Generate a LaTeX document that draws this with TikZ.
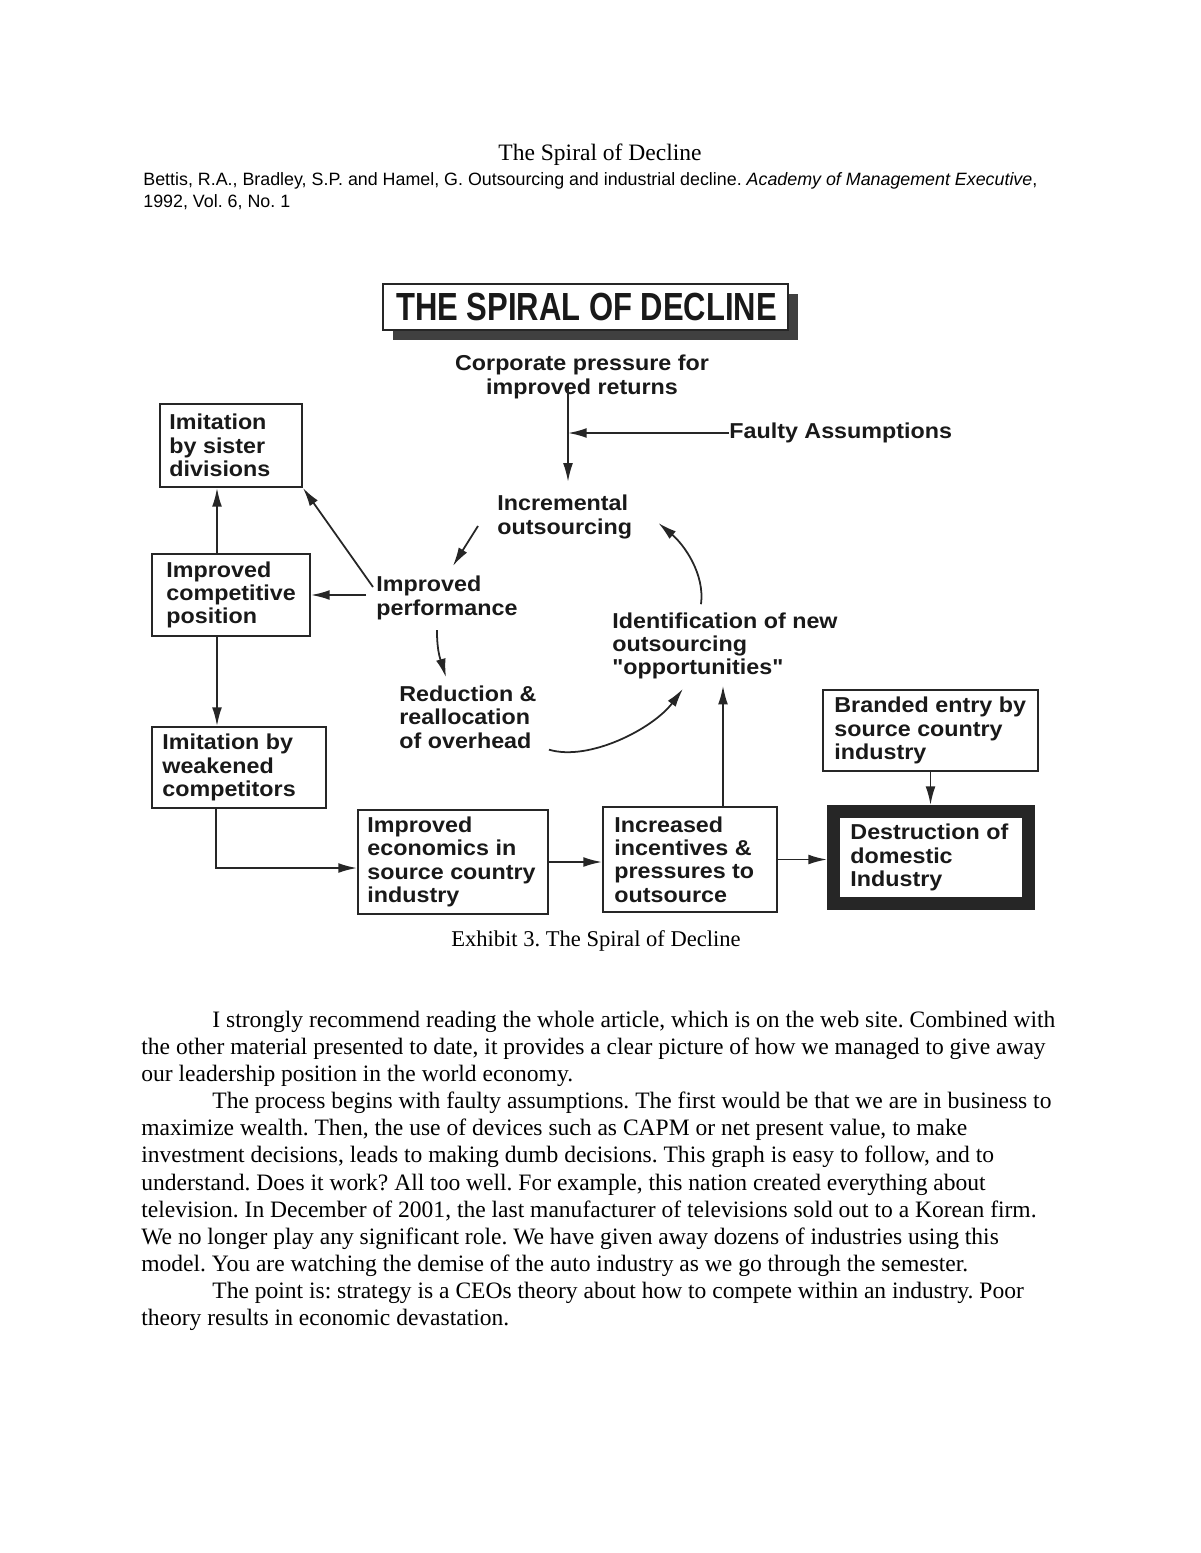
\documentclass[tikz,border=0pt]{standalone}
\usepackage{fontspec}
\setmainfont{Liberation Serif}
\newfontfamily\citefont{Liberation Sans}
\newfontfamily\diafont[FakeStretch=1.08]{Liberation Sans}
\newfontfamily\headfont[FakeStretch=0.79]{Liberation Sans}
\usetikzlibrary{arrows.meta,calc,fit,shadows}
\frenchspacing

\tikzset{
	blk/.style={draw=black!85, line width=1pt, inner sep=0pt},
	lbl/.style={font=\diafont\bfseries\fontsize{11}{11.9}\selectfont, text=black!90,
		align=left, inner sep=0pt, anchor=west},
	arr/.style={-{Latex[length=9.5pt,width=5pt]}, line width=0.9pt, draw=black!85},
	para/.style={anchor=base west, inner sep=0pt, font=\fontsize{12}{13.8}\selectfont}
}

\begin{document}
\begin{tikzpicture}[x=0.51pt,y=-0.51pt]
	\useasboundingbox (0,0) rectangle (1200,1553);

	% page heading
	\node[anchor=base, inner sep=0pt, font=\fontsize{12}{14}\selectfont] (head) at (600,161) {The Spiral of Decline};
	\node[anchor=base west, inner sep=0pt, font=\citefont\fontsize{9.1}{11}\selectfont] (cite1) at (143,186)
		{Bettis, R.A., Bradley, S.P. and Hamel, G. Outsourcing and industrial decline. \textit{Academy of Management Executive},};
	\node[anchor=base west, inner sep=0pt, font=\citefont\fontsize{9.1}{11}\selectfont] (cite2) at (143,208)
		{1992, Vol. 6, No. 1};

	% title
	\node[blk, fill=white, fit={(383,284) (788,330)},
		drop shadow={shadow xshift=5pt, shadow yshift=-5pt, fill=black!75, opacity=1}] (title) {};
	\node[inner sep=0pt, font=\headfont\bfseries\fontsize{20}{20}\selectfont, text=black!90] (titlet)
		at ($(title.center)+(1,0)$) {THE SPIRAL OF DECLINE};

	% boxes
	\node[blk, fit={(160,404) (302,487)}] (sister) {};
	\node[blk, fit={(152,554) (310,636)}] (comp) {};
	\node[blk, fit={(152,727) (326,808)}] (weak) {};
	\node[blk, fit={(358,810) (548,914)}] (econ) {};
	\node[blk, fit={(603,807) (777,912)}] (inc) {};
	\node[blk, fit={(823,690) (1038,771)}] (brand) {};
	\node[blk, line width=6.6pt, fit={(833.5,811.5) (1028.5,903.5)}] (dest) {};

	\node[lbl] (sistert) at ($(sister.west)+(10,0)$) {Imitation\\by sister\\divisions};
	\node[lbl] (compt) at ($(comp.west)+(15,0)$) {Improved\\competitive\\position};
	\node[lbl] (weakt) at ($(weak.west)+(11,0)$) {Imitation by\\weakened\\competitors};
	\node[lbl] (econt) at ($(econ.west)+(10,0)$) {Improved\\economics in\\source country\\industry};
	\node[lbl] (inct) at ($(inc.west)+(12,0)$) {Increased\\incentives \&\\pressures to\\outsource};
	\node[lbl] (brandt) at ($(brand.west)+(12,0)$) {Branded entry by\\source country\\industry};
	\node[lbl] (destt) at ($(dest.west)+(23,0)$) {Destruction of\\domestic\\Industry};

	% free labels
	\node[lbl, anchor=center, align=center] (corp) at (582,377) {Corporate pressure for\\improved returns};
	\node[lbl] (faulty) at (729,433) {Faulty Assumptions};
	\node[lbl] (incr) at (497,517) {Incremental\\outsourcing};
	\node[lbl] (perf) at (376,598) {Improved\\performance};
	\node[lbl] (reduc) at (399,717) {Reduction \&\\reallocation\\of overhead};
	\node[lbl] (ident) at (612,646) {Identification of new\\outsourcing\\"opportunities"};

	% connectors
	\coordinate (cp) at (568,384);
	\draw[arr] (cp) -- ($(cp |- incr.north)+(0,-13)$);
	\draw[arr] (faulty.west) -- (faulty.west -| cp);
	\draw[arr] ($(incr.west)+(-19,9)$) -- ($(perf.north)+(6,-10)$);
	\draw[arr] ($(perf.west)+(-3,-11)$) -- (sister.south east);
	\draw[arr] ($(perf.west)+(-10,-3)$) -- (comp.east);
	\draw[arr] ($(comp.north)+(-14,0)$) -- ($(sister.south)+(-14,0)$);
	\draw[arr] ($(comp.south)+(-14,0)$) coordinate (cw) -- (cw |- weak.north);
	\draw[arr] ($(weak.south)+(-23,0)$) |- ($(econ.west)+(0,6)$);
	\draw[arr] (econ.east) -- (econ.east -| inc.west);
	\draw[arr] (inc.east) -- (inc.east -| dest.west);
	\draw[arr] (brand.south) -- (brand.south |- dest.north);
	\draw[arr] ($(inc.north)+(33,0)$) coordinate (iv) -- ($(iv |- ident.south)+(0,6)$);
	\draw[arr] ($(perf.south)+(-10,10)$) .. controls +(0,25) and +(-4,-14) .. ($(reduc.north)+(-22,-8)$);
	\draw[arr] ($(reduc.south east)+(12,1)$) .. controls +(40,12) and +(-30,40) .. ($(ident.south)+(-42,9)$);
	\draw[arr] ($(ident.north)+(-24,-8)$) .. controls +(4,-30) and +(26,22) .. ($(incr.east)+(26,6)$);

	\node[anchor=base, inner sep=0pt, font=\fontsize{11.5}{13}\selectfont] (caption) at (596,946) {Exhibit 3. The Spiral of Decline};

	% body text
	\node[para] (l1) at (212,1027) {I strongly recommend reading the whole article, which is on the web site. Combined with};
	\node[para] (l2) at (141,1054) {the other material presented to date, it provides a clear picture of how we managed to give away};
	\node[para] (l3) at (141,1081) {our leadership position in the world economy.};
	\node[para] (l4) at (212,1108) {The process begins with faulty assumptions. The first would be that we are in business to};
	\node[para] (l5) at (141,1135) {maximize wealth. Then, the use of devices such as CAPM or net present value, to make};
	\node[para] (l6) at (141,1162) {investment decisions, leads to making dumb decisions. This graph is easy to follow, and to};
	\node[para] (l7) at (141,1190) {understand. Does it work? All too well. For example, this nation created everything about};
	\node[para] (l8) at (141,1217) {television. In December of 2001, the last manufacturer of televisions sold out to a Korean firm.};
	\node[para] (l9) at (141,1244) {We no longer play any significant role. We have given away dozens of industries using this};
	\node[para] (l10) at (141,1271) {model. You are watching the demise of the auto industry as we go through the semester.};
	\node[para] (l11) at (212,1298) {The point is: strategy is a CEOs theory about how to compete within an industry. Poor};
	\node[para] (l12) at (141,1325) {theory results in economic devastation.};
\end{tikzpicture}
\end{document}
